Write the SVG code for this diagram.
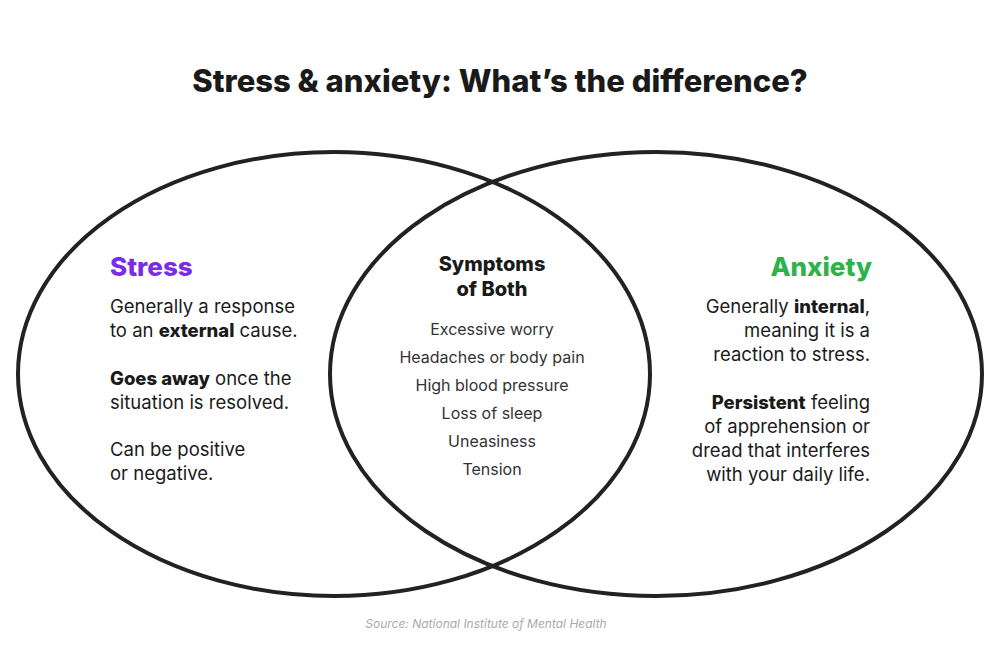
<svg xmlns="http://www.w3.org/2000/svg" width="1000" height="667" viewBox="0 0 1000 667">
<style>
.t{font-family:Inter,"Liberation Sans",sans-serif;fill:#1a1a1a}
.b{font-size:18.5px}
.c{font-size:16px;text-anchor:middle;fill:#333}
.e{fill:none;stroke:#222;stroke-width:4}
</style>
<rect width="1000" height="667" fill="#fff"/>
<text class="t" x="500" y="92" text-anchor="middle" font-size="31" font-weight="800">Stress &amp; anxiety: What’s the difference?</text>
<g id="stress"><ellipse class="e" cx="334" cy="374" rx="316" ry="222"/>
<text class="t" x="110" y="276" font-size="26" font-weight="800" style="fill:#7b2ce6">Stress</text>
<text class="t b" x="110" y="313">Generally a response</text>
<text class="t b" x="110" y="337">to an <tspan font-weight="800">external</tspan> cause.</text>
<text class="t b" x="110" y="385"><tspan font-weight="800">Goes away</tspan> once the</text>
<text class="t b" x="110" y="409">situation is resolved.</text>
<text class="t b" x="110" y="456">Can be positive</text>
<text class="t b" x="110" y="480">or negative.</text></g>
<g id="anxiety"><ellipse class="e" cx="656" cy="374" rx="326" ry="222"/>
<text class="t" x="872" y="276" text-anchor="end" font-size="26" font-weight="800" style="fill:#2eb34b">Anxiety</text>
<g text-anchor="end">
<text class="t b" x="870" y="313">Generally <tspan font-weight="800">internal</tspan>,</text>
<text class="t b" x="870" y="337">meaning it is a</text>
<text class="t b" x="870" y="361">reaction to stress.</text>
<text class="t b" x="870" y="409"><tspan font-weight="800">Persistent</tspan> feeling</text>
<text class="t b" x="870" y="433">of apprehension or</text>
<text class="t b" x="870" y="457">dread that interferes</text>
<text class="t b" x="870" y="481">with your daily life.</text></g></g>
<g id="both">
<text class="t" x="492" y="271" text-anchor="middle" font-size="20" font-weight="800">Symptoms</text>
<text class="t" x="492" y="296" text-anchor="middle" font-size="20" font-weight="800">of Both</text>
<text class="t c" x="492" y="335">Excessive worry</text>
<text class="t c" x="492" y="363">Headaches or body pain</text>
<text class="t c" x="492" y="391">High blood pressure</text>
<text class="t c" x="492" y="419">Loss of sleep</text>
<text class="t c" x="492" y="447">Uneasiness</text>
<text class="t c" x="492" y="475">Tension</text></g>
<g id="connectors"/>
<text x="486" y="628" text-anchor="middle" font-family="Inter,'Liberation Sans',sans-serif" font-size="12" font-style="italic" fill="#aaa">Source: National Institute of Mental Health</text>
</svg>
